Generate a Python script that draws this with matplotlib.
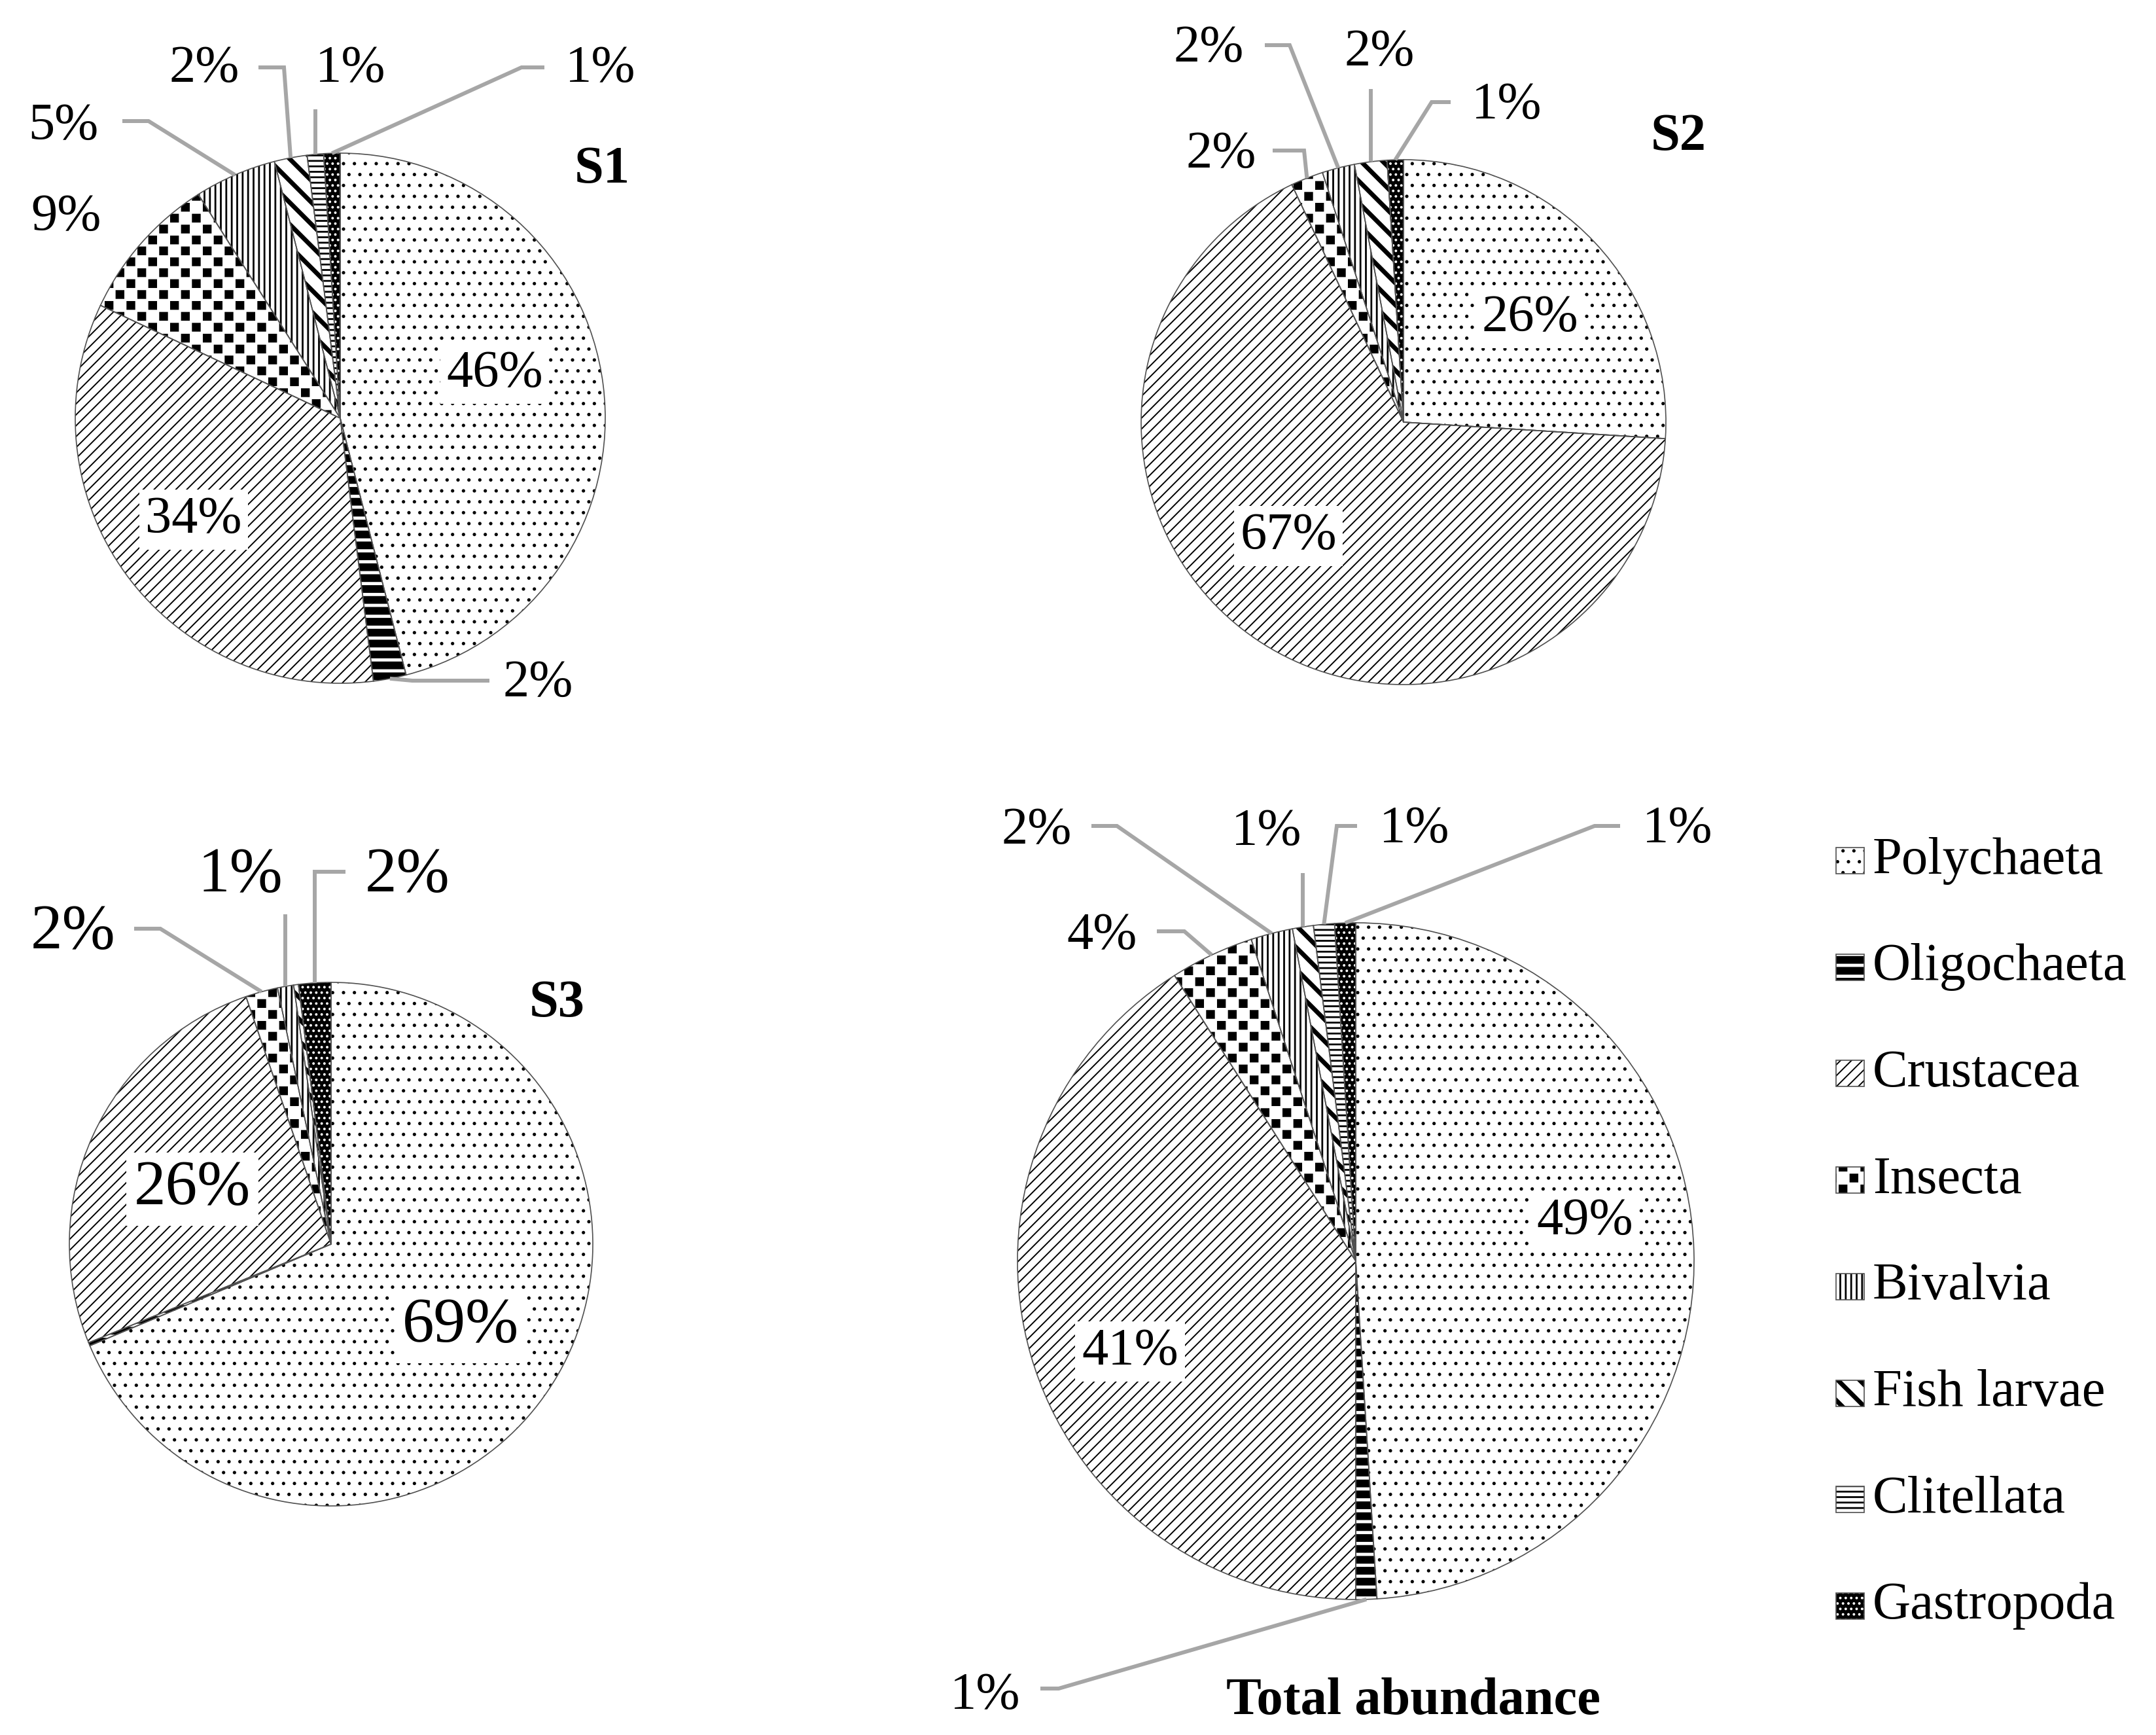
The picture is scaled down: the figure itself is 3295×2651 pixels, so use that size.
import numpy as np
import matplotlib
matplotlib.use("Agg")
import matplotlib.pyplot as plt
import matplotlib.hatch as mhatch
from matplotlib.path import Path
from matplotlib.patches import Rectangle

# ---------------- data ----------------
categories = ["Polychaeta", "Oligochaeta", "Crustacea", "Insecta",
              "Bivalvia", "Fish larvae", "Clitellata", "Gastropoda"]
s1_values = [46, 2, 34, 9, 5, 2, 1, 1]
s2_values = [26, 0, 67, 2, 2, 2, 0, 1]
s3_values = [69, 0.2, 26, 2, 1, 0.3, 0, 2]
total_values = [49, 1, 41, 4, 2, 1, 1, 1]
chart_titles = ["S1", "S2", "S3", "Total abundance"]


# ---------------- custom hatch: staggered filled squares ("confetti") ----------------
class SquareConfetti(mhatch.HatchPatternBase):
    def __init__(self, hatch, density):
        self.n = hatch.count('O') * 3
        self.num_vertices = ((self.n + 1) ** 2 + self.n ** 2) * 5 if self.n else 0

    def set_vertices_and_codes(self, vertices, codes):
        n = self.n
        h = 0.18 / n
        sq = np.array([[-1, -1], [1, -1], [1, 1], [-1, 1], [-1, -1]], float) * h
        parts = []
        for j in range(2 * n + 1):
            y = j / (2 * n)
            if j % 2 == 0:
                xs = [i / n for i in range(n + 1)]
            else:
                xs = [(i + 0.5) / n for i in range(n)]
            for x in xs:
                parts.append(sq + [x, y])
        vertices[:] = np.concatenate(parts)
        one = np.array([Path.MOVETO, Path.LINETO, Path.LINETO, Path.LINETO, Path.CLOSEPOLY],
                       dtype=Path.code_type)
        codes[:] = np.tile(one, len(parts))


mhatch._hatch_types = [t for t in mhatch._hatch_types if t is not mhatch.LargeCircles] + [SquareConfetti]

# ---------------- styles ----------------
plt.rcParams['font.family'] = ['Liberation Serif', 'DejaVu Serif']
W, H = 3295, 2651
face_cols = ['white', 'black', 'white', 'white', 'white', 'white', 'white', 'black']
hatch_cols = ['black', 'white', 'black', 'black', 'black', 'black', 'black', 'white']
hatches = ['.', '-', '//', 'O', '||', '\\', '--', '..']
hatch_lws = [1.3, 3.5, 1.4, 1.0, 2.0, 5.0, 2.0, 1.6]
LEAD = '#a6a6a6'
FS = 58

fig = plt.figure(figsize=(W / 100, H / 100), dpi=100)
ax = fig.add_axes([0, 0, 1, 1])


def Y(y):
    return H - y


def style_patch(p, i):
    p.set_facecolor(face_cols[i])
    p.set_edgecolor(hatch_cols[i])
    p.set_linewidth(0)
    p.set_hatch(hatches[i])
    if hasattr(p, 'set_hatch_linewidth'):
        p.set_hatch_linewidth(hatch_lws[i])


# layout: centre, radius (pixels), label specs: idx -> (x, y, boxed, leader points)
charts = [
    dict(values=s1_values, c=(520, 639), r=405, title_xy=(920, 260), fs=FS,
         labels={0: (756, 571, True, None),
                 1: (822, 1044, False, [(748, 1040), (630, 1040)]),
                 2: (296, 794, True, None),
                 3: (101, 332, False, None),
                 4: (97, 193, False, [(187, 185), (227, 185)]),
                 5: (312, 105, False, [(395, 103), (434, 103)]),
                 6: (536, 105, False, [(None, 167)]),
                 7: (918, 105, False, [(832, 103), (797, 103)])}),
    dict(values=s2_values, c=(2145, 645), r=401, title_xy=(2565, 210), fs=FS,
         labels={0: (2338, 486, True, None),
                 2: (1969, 819, True, None),
                 3: (1866, 236, False, [(1945, 230), (1993, 230)]),
                 4: (1847, 74, False, [(1933, 69), (1971, 69)]),
                 5: (2108, 80, False, [(None, 136)]),
                 7: (2303, 161, False, [(2217, 156), (2188, 156)])}),
    dict(values=s3_values, c=(506, 1901), r=400, title_xy=(851, 1534), fs=70,
         labels={0: (704, 2027, True, None),
                 2: (294, 1817, True, None),
                 3: (112, 1426, False, [(205, 1419), (245, 1419)]),
                 4: (367, 1339, False, [(None, 1397)]),
                 7: (623, 1339, False, [(528, 1332), (None, 1332)])}),
    dict(values=total_values, c=(2072, 1927), r=517, title_xy=(2160, 2599), fs=FS,
         labels={0: (2422, 1866, True, None),
                 1: (1506, 2591, False, [(1590, 2580), (1618, 2580)]),
                 2: (1727, 2065, True, None),
                 3: (1684, 1430, False, [(1768, 1423), (1810, 1423)]),
                 4: (1584, 1269, False, [(1668, 1262), (1707, 1262)]),
                 5: (1936, 1271, False, [(None, 1334)]),
                 6: (2162, 1267, False, [(2074, 1262), (2043, 1262)]),
                 7: (2564, 1267, False, [(2476, 1262), (2437, 1262)])}),
]

for ch, title in zip(charts, chart_titles):
    vals = ch['values']
    cx, cy = ch['c']
    r = ch['r']
    wedges, _ = ax.pie(vals, startangle=90, counterclock=False,
                       center=(cx, Y(cy)), radius=r, normalize=True)
    for i, w in enumerate(wedges):
        style_patch(w, i)
    ax.pie(vals, startangle=90, counterclock=False,
           center=(cx, Y(cy)), radius=r, normalize=True,
           wedgeprops=dict(fill=False, edgecolor='#505050', linewidth=1.2))
    total = float(sum(vals))
    for i, (lx, ly, boxed, lead) in ch['labels'].items():
        w = wedges[i]
        txt = f"{round(100 * vals[i] / total)}%"
        kw = dict(ha='center', va='center', fontsize=ch['fs'], zorder=6)
        if boxed:
            kw['bbox'] = dict(boxstyle='square,pad=0.12', fc='white', ec='none')
        ax.text(lx, Y(ly), txt, **kw)
        if lead:
            mid = np.deg2rad((w.theta1 + w.theta2) / 2)
            wx = cx + r * np.cos(mid)
            wy = Y(cy) + r * np.sin(mid)
            xs, ys = [], []
            for px, py in lead:
                xs.append(wx if px is None else px)
                ys.append(Y(py))
            xs.append(wx)
            ys.append(wy)
            ax.plot(xs, ys, color=LEAD, lw=4.3, solid_capstyle='butt',
                    solid_joinstyle='miter', zorder=5)
    tx, ty = ch['title_xy']
    ax.text(tx, Y(ty), title, ha='center', va='center', fontsize=FS,
            fontweight='bold', zorder=6)

# legend
leg_y0, leg_dy = 1315, 162.7
for i, name in enumerate(categories):
    yy = leg_y0 + i * leg_dy
    p = Rectangle((2806, Y(yy) - 20), 43, 40)
    style_patch(p, i)
    ax.add_patch(p)
    ax.add_patch(Rectangle((2806, Y(yy) - 20), 43, 40, fill=False,
                           edgecolor='#505050', linewidth=1.2))
    ax.text(2862, Y(yy), name, ha='left', va='center', fontsize=FS)

ax.set_xlim(0, W)
ax.set_ylim(0, H)
ax.set_aspect('auto')
ax.axis('off')
fig.savefig('out.png', dpi=100, facecolor='white')
